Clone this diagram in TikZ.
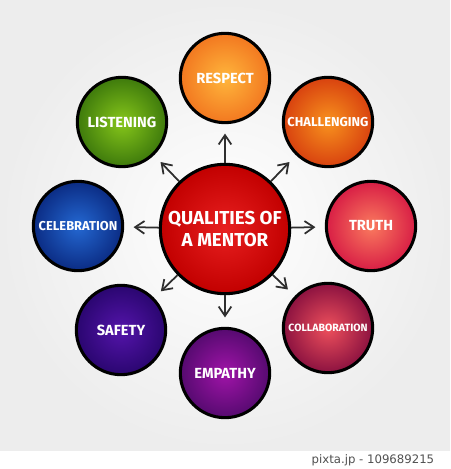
\documentclass[tikz,border=0pt]{standalone}
\usepackage{fontspec}
\setmainfont{Fira Sans}
\newfontfamily\stampfont{DejaVu Sans}
\usepackage{tikz}
\usetikzlibrary{arrows.meta}

\definecolor{bggray}{HTML}{EDEDED}
\definecolor{linkgray}{HTML}{2E2E2E}
\definecolor{stampgray}{HTML}{505050}
\definecolor{hubIn}{HTML}{E82020}
\definecolor{hubOut}{HTML}{C20000}
\definecolor{respIn}{HTML}{FFB63C}
\definecolor{respOut}{HTML}{F27820}
\definecolor{chalIn}{HTML}{F8921E}
\definecolor{chalOut}{HTML}{D8420F}
\definecolor{truthIn}{HTML}{FA7A5E}
\definecolor{truthOut}{HTML}{D81E45}
\definecolor{collIn}{HTML}{EE505C}
\definecolor{collOut}{HTML}{8C1240}
\definecolor{empIn}{HTML}{A014A8}
\definecolor{empOut}{HTML}{560A70}
\definecolor{safeIn}{HTML}{5414AA}
\definecolor{safeOut}{HTML}{2A0670}
\definecolor{celeIn}{HTML}{2468D2}
\definecolor{celeOut}{HTML}{0B2C84}
\definecolor{listIn}{HTML}{86C61A}
\definecolor{listOut}{HTML}{3E7A0C}

\begin{document}
\begin{tikzpicture}[main/.style = {draw, circle, line width=2.6pt, minimum size=2.68cm, inner sep=0pt, text=white, align=center, font=\bfseries\fontsize{12.5}{14}\selectfont},
            hub/.style = {main, minimum size=3.88cm, font=\bfseries\fontsize{16}{18}\selectfont},
            link/.style = {-{Straight Barb[length=2.8mm, width=3.8mm]}, line width=1.5pt, draw=linkgray, shorten >=8pt}]
            \useasboundingbox (-6.75,-7.2) rectangle (6.75,6.87);
            \shade[inner color=white, outer color=bggray] (-6.75,-6.63) rectangle (6.75,6.87);

            \node[hub, inner color=hubIn, outer color=hubOut] (QoM) at (0,0) {QUALITIES OF\\A MENTOR};

            \node[main, inner color=respIn, outer color=respOut] (Respect) at (0,4.53) {RESPECT};
            \node[main, inner color=chalIn, outer color=chalOut, font=\bfseries\fontsize{11}{13}\selectfont] (Challenging) at (3.09,3.21) {CHALLENGING};
            \node[main, inner color=truthIn, outer color=truthOut] (Truth) at (4.38,0.09) {TRUTH};
            \node[main, inner color=collIn, outer color=collOut, font=\bfseries\fontsize{9}{11}\selectfont] (Collaboration) at (3.09,-2.97) {COLLABORATION};
            \node[main, inner color=empIn, outer color=empOut] (Empathy) at (0,-4.32) {EMPATHY};
            \node[main, inner color=safeIn, outer color=safeOut] (Safety) at (-3.12,-3.03) {SAFETY};
            \node[main, inner color=celeIn, outer color=celeOut, font=\bfseries\fontsize{11}{13}\selectfont] (Celebration) at (-4.41,0.09) {CELEBRATION};
            \node[main, inner color=listIn, outer color=listOut] (Listening) at (-3.09,3.21) {LISTENING};

            \path[link] (QoM) edge (Respect);
            \path[link] (QoM) edge (Challenging);
            \path[link] (QoM) edge (Truth);
            \path[link] (QoM) edge (Collaboration);
            \path[link] (QoM) edge (Empathy);
            \path[link] (QoM) edge (Safety);
            \path[link] (QoM) edge (Celebration);
            \path[link] (QoM) edge (Listening);

            \node[anchor=east, text=stampgray, font=\stampfont\fontsize{10}{12}\selectfont] (stamp) at (6.4,-6.93) {pixta.jp - 109689215};
        \end{tikzpicture}
\end{document}
